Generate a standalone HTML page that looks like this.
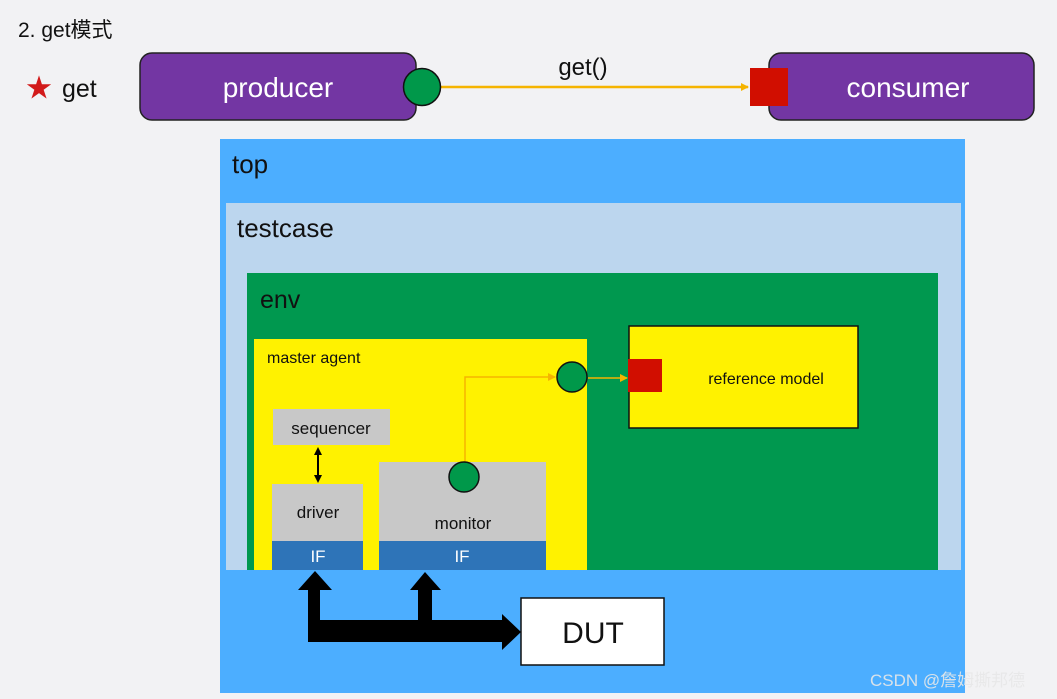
<!DOCTYPE html>
<html><head><meta charset="utf-8"><style>
body{margin:0;width:1057px;height:699px;overflow:hidden;background:#f1f1f3}
svg{display:block}
text{font-family:"Liberation Sans","Noto Sans CJK SC",sans-serif}
</style></head><body>
<svg width="1057" height="699" viewBox="0 0 1057 699">
<defs>
<marker id="oa" markerWidth="8" markerHeight="8" refX="7" refY="4" orient="auto" markerUnits="userSpaceOnUse"><path d="M0,0 L8,4 L0,8 Z" fill="#f5b400"/></marker>
<marker id="ba" markerWidth="8" markerHeight="8" refX="4" refY="4" orient="auto-start-reverse" markerUnits="userSpaceOnUse"><path d="M0,0 L8,4 L0,8 Z" fill="#000"/></marker>
</defs>
<rect width="1057" height="699" fill="#f2f2f4"/>
<text x="18" y="37" font-size="21" fill="#111">2. get模式</text>
<text x="26" y="97" font-size="26" fill="#d21a1a">★</text>
<text x="62" y="97" font-size="25" fill="#111">get</text>
<rect x="140" y="53" width="276" height="67" rx="12" fill="#7336a3" stroke="#222" stroke-width="1.5"/>
<text x="278" y="97" font-size="28" fill="#fff" text-anchor="middle">producer</text>
<rect x="769" y="53" width="265" height="67" rx="12" fill="#7336a3" stroke="#222" stroke-width="1.5"/>
<text x="908" y="97" font-size="28" fill="#fff" text-anchor="middle">consumer</text>
<line x1="441" y1="87" x2="748" y2="87" stroke="#f5b400" stroke-width="2.5" marker-end="url(#oa)"/>
<circle cx="422" cy="87" r="18.5" fill="#00984a" stroke="#111" stroke-width="1.5"/>
<rect x="750" y="68" width="38" height="38" fill="#d10e00"/>
<text x="583" y="75" font-size="24" fill="#111" text-anchor="middle">get()</text>

<rect x="220" y="139" width="745" height="554" fill="#4caeff"/>
<text x="232" y="173" font-size="26" fill="#111">top</text>
<rect x="226" y="203" width="735" height="367" fill="#bcd6ee"/>
<text x="237" y="237" font-size="26" fill="#111">testcase</text>
<rect x="247" y="273" width="691" height="297" fill="#00984f"/>
<text x="260" y="308" font-size="25" fill="#111">env</text>
<rect x="254" y="339" width="333" height="231" fill="#fff200"/>
<text x="267" y="363" font-size="16" fill="#111">master agent</text>
<rect x="273" y="409" width="117" height="36" fill="#c8c8c8"/>
<text x="331" y="434" font-size="17" fill="#111" text-anchor="middle">sequencer</text>
<line x1="318" y1="451" x2="318" y2="479" stroke="#000" stroke-width="2" marker-end="url(#ba)" marker-start="url(#ba)"/>
<rect x="272" y="484" width="91" height="57" fill="#c8c8c8"/>
<text x="318" y="518" font-size="17" fill="#111" text-anchor="middle">driver</text>
<rect x="272" y="541" width="91" height="29" fill="#2e74b8"/>
<text x="318" y="562" font-size="17" fill="#fff" text-anchor="middle">IF</text>
<rect x="379" y="462" width="167" height="79" fill="#c8c8c8"/>
<text x="463" y="529" font-size="17" fill="#111" text-anchor="middle">monitor</text>
<rect x="379" y="541" width="167" height="29" fill="#2e74b8"/>
<text x="462" y="562" font-size="17" fill="#fff" text-anchor="middle">IF</text>
<polyline points="465,462 465,377 555,377" fill="none" stroke="#f5b400" stroke-width="1.5" marker-end="url(#oa)"/>
<circle cx="464" cy="477" r="15" fill="#00984a" stroke="#111" stroke-width="1.5"/>
<circle cx="572" cy="377" r="15" fill="#00984a" stroke="#111" stroke-width="1.5"/>
<line x1="588" y1="378" x2="627" y2="378" stroke="#f5b400" stroke-width="1.5" marker-end="url(#oa)"/>
<rect x="629" y="326" width="229" height="102" fill="#fff200" stroke="#111" stroke-width="1.5"/>
<rect x="628" y="359" width="34" height="33" fill="#d10e00"/>
<text x="766" y="384" font-size="16" fill="#111" text-anchor="middle">reference model</text>

<rect x="521" y="598" width="143" height="67" fill="#fff" stroke="#111" stroke-width="1.5"/>
<text x="593" y="643" font-size="30" fill="#111" text-anchor="middle">DUT</text>
<path d="M308,638 L308,590 L298,590 L315,571 L332,590 L320,590 L320,620 L418,620 L418,590 L410,590 L425,572 L441,590 L432,590 L432,620 L502,620 L502,614 L521,632 L502,650 L502,642 L320,642 L308,642 Z" fill="#000"/>
<text x="870" y="686" font-size="17" fill="#e8e8e8" opacity="0.9">CSDN @詹姆撕邦德</text>
</svg>
</body></html>
